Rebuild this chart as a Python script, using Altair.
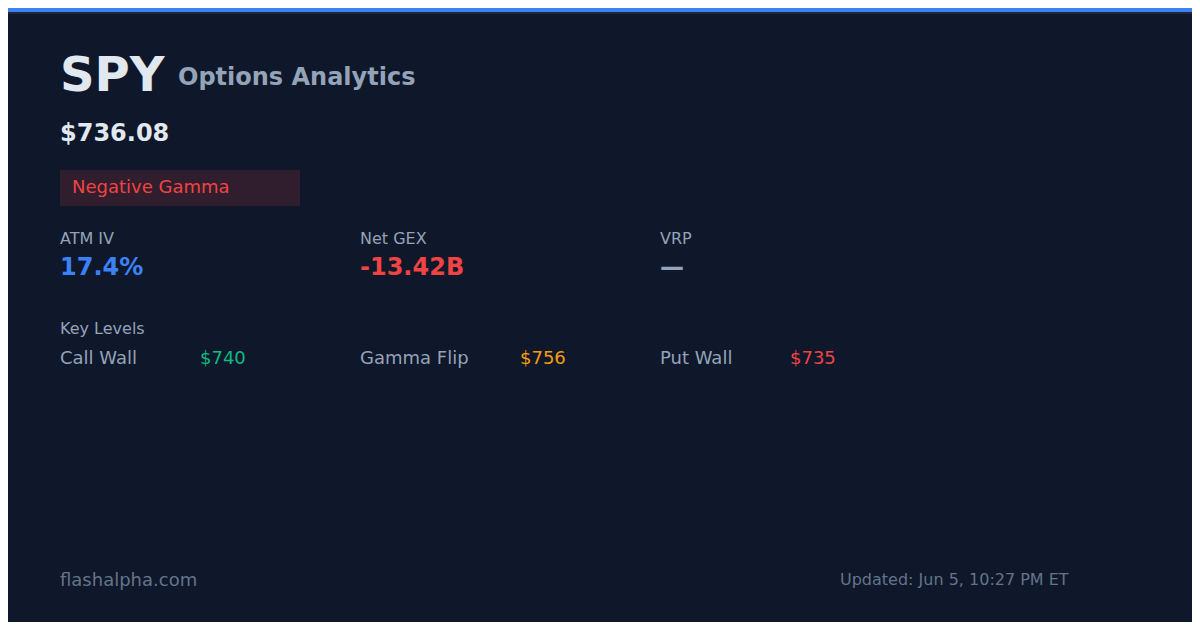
import altair as alt
import pandas as pd

ticker = "SPY"
subtitle = "Options Analytics"
price = "$736.08"
regime = "Negative Gamma"
metric_labels = ["ATM IV", "Net GEX", "VRP"]
metric_values = ["17.4%", "-13.42B", "—"]
levels_title = "Key Levels"
level_labels = ["Call Wall", "Gamma Flip", "Put Wall"]
level_values = ["$740", "$756", "$735"]
footer_left = "flashalpha.com"
footer_right = "Updated: Jun 5, 10:27 PM ET"

# ---- layout / style (page pixel coordinates of the reference) ----
BG = "#0f172a"
FONT = "DejaVu Sans"
W, H = 1184, 614          # chart drawn at page offset (8, 8)
xs = alt.Scale(domain=[8, 8 + W])
ys = alt.Scale(domain=[8, 8 + H], reverse=True)

metric_x = [60, 360, 660]
metric_colors = ["#3b82f6", "#ef4444", "#94a3b8"]
level_label_x = [60, 360, 660]
level_value_x = [200, 520, 790]
level_colors = ["#10b981", "#f59e0b", "#ef4444"]

rows = []
def add(text, x, y, size, color, weight="normal"):
    rows.append(dict(t=text, x=x, y=y, size=size, color=color, weight=weight))

add(ticker, 60, 91, 48, "#e2e8f0", "bold")
add(subtitle, 178, 85, 24, "#94a3b8", "bold")
add(price, 60, 141, 24, "#e2e8f0", "bold")
add(regime, 72, 193, 18, "#ef4444")
for lab, val, x, c in zip(metric_labels, metric_values, metric_x, metric_colors):
    add(lab, x, 244, 16, "#94a3b8")
    add(val, x, 275, 24, c, "bold")
add(levels_title, 60, 334, 16, "#94a3b8")
for lab, val, lx, vx, c in zip(level_labels, level_values, level_label_x, level_value_x, level_colors):
    add(lab, lx, 364, 18, "#94a3b8")
    add(val, vx, 364, 18, c)
add(footer_left, 60, 586, 18, "#64748b")
add(footer_right, 840, 585, 16, "#64748b")

layers = []

# top accent bar and badge background
rects = pd.DataFrame([
    dict(x=8, x2=8 + W, y=8, y2=12, c="#3b82f6", o=1.0),
    dict(x=8, x2=8 + W, y=12, y2=14, c="#1e293b", o=1.0),
    dict(x=60, x2=300, y=170, y2=206, c="#ef4444", o=0.15),
])
layers.append(
    alt.Chart(rects).mark_rect().encode(
        x=alt.X("x:Q", scale=xs, axis=None),
        x2="x2:Q",
        y=alt.Y("y:Q", scale=ys, axis=None),
        y2="y2:Q",
        color=alt.Color("c:N", scale=None),
        opacity=alt.Opacity("o:Q", scale=None),
    )
)

df = pd.DataFrame(rows)
for (size, color, weight), g in df.groupby(["size", "color", "weight"]):
    layers.append(
        alt.Chart(g.reset_index(drop=True)).mark_text(
            align="left", baseline="alphabetic", font=FONT,
            fontSize=int(size), fontWeight=weight, color=color,
        ).encode(
            x=alt.X("x:Q", scale=xs, axis=None),
            y=alt.Y("y:Q", scale=ys, axis=None),
            text="t:N",
        )
    )

chart = alt.layer(*layers).properties(
    width=W, height=H, padding=0, autosize=alt.AutoSizeParams(type="none"),
    background=BG,
).configure_view(stroke=None)

chart.save("out.html", embed_options={"renderer": "svg", "actions": False})
